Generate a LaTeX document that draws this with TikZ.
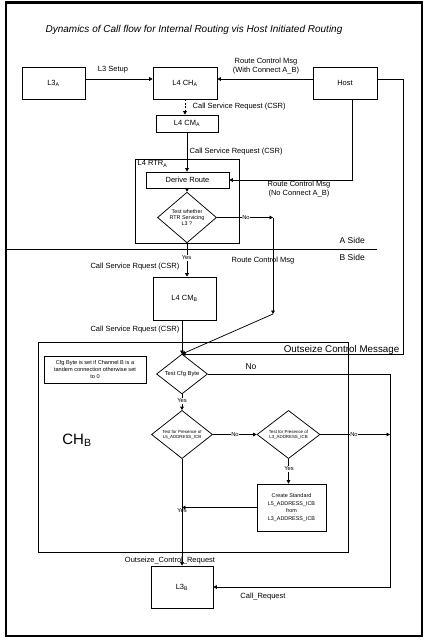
\documentclass[tikz,border=0pt]{standalone}
\usepackage{fontspec}
\setmainfont{Liberation Sans}
\usetikzlibrary{shapes.geometric,arrows.meta}
\newcommand\fs[2]{\fontsize{#1}{#2}\selectfont}
\begin{document}
\begin{tikzpicture}[x=1pt,y=-1pt,
  ln/.style={line width=0.75pt},
  blk/.style={draw,line width=0.75pt,inner sep=0pt,font=\fs{7.5}{8.5}},
  dia/.style={draw,diamond,line width=0.75pt,inner sep=0pt,align=center},
  lbl/.style={inner sep=0.5pt,font=\fs{7.5}{9}},
  wl/.style={lbl,fill=white,font=\fs{5.8}{6.5}},
  arr/.style={line width=0.75pt,-{Triangle[length=3.4pt,width=3.6pt]}}]
\useasboundingbox (0,0) rectangle (429,641);
\fill[white] (0,0) rectangle (429,641);
\draw[line width=2.5pt] (6,2.5) rectangle (422,636);

\node[font=\itshape\fs{10}{12}] (title) at (194,30) {Dynamics of Call flow for Internal Routing vis Host Initiated Routing};

% top row
\node[blk,minimum width=63pt,minimum height=32pt] (l3a) at (53.5,83) {L3\textsubscript{A}};
\node[blk,minimum width=64pt,minimum height=32pt] (l4cha) at (185,83) {L4 CH\textsubscript{A}};
\node[blk,minimum width=64pt,minimum height=32pt] (host) at (345,83) {Host};
\node[blk,minimum width=62pt,minimum height=17pt] (l4cma) at (187,123.5) {L4 CM\textsubscript{A}};

\draw[arr] ([yshift=4pt]l3a.east) -- ([yshift=4pt]l4cha.west);
\node[lbl] (lsetup) at (113,70) {L3 Setup};
\draw[arr] ([yshift=4pt]host.west) -- ([yshift=4pt]l4cha.east);
\node[lbl,align=center] (lwith) at (266,66.5) {Route Control Msg\\(With Connect A\_B)};
\draw[arr,dash pattern=on 2pt off 1.5pt] (l4cha.south) -- (l4cha.south |- l4cma.north);
\node[lbl,anchor=west] (lcsr1) at (192,107) {Call Service Request (CSR)};

% RTR
\node[draw,ln,minimum width=104pt,minimum height=84pt,inner sep=0pt] (rtr) at (187,201) {};
\node[lbl,anchor=north west] (lrtr) at (137,160) {L4 RTR\textsubscript{A}};
\node[blk,minimum width=83pt,minimum height=16pt] (derive) at (187.5,180) {Derive Route};
\draw[arr] (l4cma.south) -- (l4cma.south |- derive.north);
\node[lbl,anchor=west] (lcsr2) at (189,151.5) {Call Service Request (CSR)};
\draw[arr] ([xshift=7pt]host.south) |- (derive.east);
\node[lbl,align=center] (lno) at (299,189.5) {Route Control Msg\\(No Connect A\_B)};
\node[dia,minimum width=59pt,minimum height=39pt,font=\fs{5.4}{6}] (d1) at (187,217.5) {Test whether\\RTR Servicing\\L3 ?};
\draw[arr] (derive.south -| d1.north) -- (d1.north);

\coordinate (n1) at (273,217.5);
\coordinate (n2) at (273,314);
\coordinate (merge) at (182,354);
\draw[arr] (d1.east) -- (n1);
\node[wl] (lno1) at (246,217.5) {No};
\draw[arr] (n1) -- (n2);
\draw[arr] (n2) -- (merge);
\node[lbl] (lrcm) at (263,261) {Route Control Msg};

% side line
\draw[ln] (6,249) -- (377,249);
\node[lbl,anchor=west,font=\fs{8.5}{9}] (aside) at (339,240) {A Side};
\node[lbl,anchor=west,font=\fs{8.5}{9}] (bside) at (339,257) {B Side};

% CM_B
\node[blk,minimum width=63pt,minimum height=43pt] (l4cmb) at (184.5,298.5) {L4 CM\textsubscript{B}};
\draw[arr] (d1.south) -- (d1.south |- l4cmb.north);
\node[wl] (lyes1) at (186.5,258) {Yes};
\node[lbl,anchor=east] (lcsr3) at (180,267) {Call Service Rquest (CSR)};
\draw[arr] (l4cmb.south -| merge) -- (merge);
\node[lbl,anchor=east] (lcsr4) at (180,330) {Call Service Rquest (CSR)};

% CH_B box
\node[draw,ln,minimum width=310pt,minimum height=210pt,inner sep=0pt] (chb) at (193,447) {};
\node[font=\fs{15}{17}] (lchb) at (77,440) {CH\textsubscript{B}};

% outseize
\coordinate (hr) at (403,79);
\draw[arr] ([yshift=4pt]host.east) -- (hr) |- (merge);
\node[lbl,anchor=south east,font=\fs{9.8}{11}] (lout) at (400,355.5) {Outseize Control Message};

% note
\node[blk,minimum width=102pt,minimum height=27pt,align=center,font=\fs{5.6}{7}] (note) at (95,369.5) {Cfg Byte is set if Channel B is a\\tandem connection otherwise set\\to 0};

% Cfg diamond
\node[dia,minimum width=51pt,minimum height=36pt,font=\fs{5.8}{6.5}] (d2) at (182,374) {Test Cfg Byte};
\draw[ln] (merge) -- (d2.north);
\coordinate (c1) at (390,374);
\node[blk,minimum width=62pt,minimum height=42pt] (l3b) at (182,587) {L3\textsubscript{B}};
\draw[arr] (d2.east) -- (c1) |- (l3b.east);
\node[lbl,font=\fs{8.5}{9}] (lno2) at (251,367) {No};

\node[dia,minimum width=61pt,minimum height=43pt,font=\fs{4.4}{5}] (d3) at (182,434.5) {Test for Presence of\\L5\_ADDRESS\_ICB};
\draw[arr] (d2.south) -- (d3.north);
\node[wl] (lyes2) at (182,401) {Yes};
\node[dia,minimum width=63pt,minimum height=42pt,font=\fs{4.4}{5}] (d4) at (288.5,434.5) {Test for Presence of\\L3\_ADDRESS\_ICB};
\draw[arr] (d3.east) -- (d4.west);
\node[wl] (lno3) at (235,434.5) {No};
\coordinate (c2) at (390,434.5);
\draw[arr] (d4.east) -- (c2);
\node[wl] (lno4) at (354,434.5) {No};

\node[blk,minimum width=69pt,minimum height=47pt,align=center,font=\fs{5.4}{7.7}] (create) at (291.5,507.5) {Create Standard\\L5\_ADDRESS\_ICB\\from\\L3\_ADDRESS\_ICB};
\draw[arr] (d4.south) -- (d4.south |- create.north);
\node[wl] (lyes3) at (289,469) {Yes};
\draw[arr] (create.west) -- (create.west -| d3.south);
\draw[arr] (d3.south) -- (l3b.north);
\node[lbl,font=\fs{5.8}{6.5}] (lyes4) at (182,511) {Yes};

\node[lbl] (locr) at (170,561) {Outseize\_Control\_Request};
\node[lbl] (lcall) at (263,597) {Call\_Request};
\end{tikzpicture}
\end{document}
